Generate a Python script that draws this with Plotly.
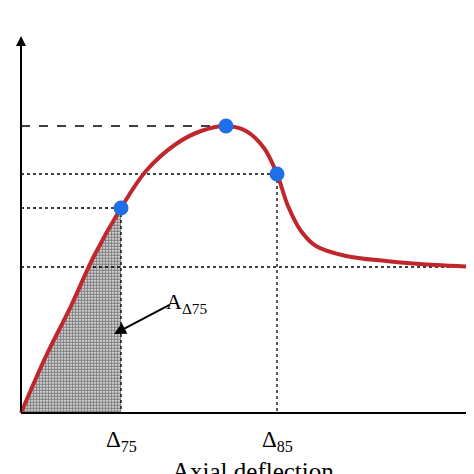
import plotly.graph_objects as go

# curve (x deflection, y load) in chart units
curve_x = [0, 25, 50, 73, 100, 125, 155, 180, 205, 225, 243, 256, 267, 280, 295, 325, 365, 415, 463]
curve_y = [0, 57, 107, 157, 205, 242, 269, 282, 287, 282, 265, 239, 207, 182, 167, 157, 152, 148, 146]
shade_x = curve_x[:5]
shade_y = curve_y[:5]
pts_x = [100, 205, 256, 463]
pts_y = [205, 287, 239, 146]
tick_labels = ["Δ<sub>75</sub>", "Δ<sub>85</sub>", "Δ"]
tick_x = [100, 256, 463]

fig = go.Figure()
fig.add_trace(go.Scatter(x=shade_x + [100], y=shade_y + [0], mode="lines", line=dict(width=0),
                         fill="tozeroy", fillcolor="rgba(0,0,0,0)",
                         fillpattern=dict(shape=".", fgcolor="black", bgcolor="white", size=3, solidity=0.7)))
for px, py in zip(pts_x, pts_y):
    dash = "dash" if px == 205 else "dot"
    fig.add_trace(go.Scatter(x=[0, px], y=[py, py], mode="lines", line=dict(color="black", width=1.3, dash=dash)))
    if px != 205:
        fig.add_trace(go.Scatter(x=[px, px], y=[py, 0], mode="lines", line=dict(color="black", width=1.3, dash="dot")))
fig.add_trace(go.Scatter(x=curve_x, y=curve_y, mode="lines", line=dict(color="#c0272d", width=4, shape="spline")))
fig.add_trace(go.Scatter(x=pts_x, y=pts_y, mode="markers", marker=dict(color="#1f6fe8", size=15)))

for tx, tl in zip(tick_x, tick_labels):
    fig.add_annotation(x=tx, y=-28, text=tl, showarrow=False, font=dict(size=23, family="Liberation Serif", color="black"))
fig.add_annotation(x=232, y=-58, text="Axial deflection", showarrow=False,
                   font=dict(size=25, family="Liberation Serif", color="black"))
fig.add_annotation(x=93, y=79, ax=150, ay=109, axref="x", ayref="y", text="", showarrow=True,
                   arrowhead=2, arrowsize=1.2, arrowwidth=2, arrowcolor="black")
fig.add_annotation(x=143, y=110, text="A<sub>Δ75</sub>", showarrow=False, xanchor="left",
                   font=dict(size=22, family="Liberation Serif", color="black"))
fig.add_annotation(x=0, y=377, ax=0, ay=0, axref="x", ayref="y", text="", showarrow=True,
                   arrowhead=2, arrowwidth=2, arrowcolor="black")
fig.add_trace(go.Scatter(x=[0, 470], y=[0, 0], mode="lines", line=dict(color="black", width=2)))

fig.update_layout(width=474, height=474, margin=dict(l=0, r=0, t=0, b=0), showlegend=False,
                  plot_bgcolor="white", paper_bgcolor="white",
                  xaxis=dict(range=[-13, 461], visible=False),
                  yaxis=dict(range=[-69, 405], visible=False))
fig.write_html("out.html")
